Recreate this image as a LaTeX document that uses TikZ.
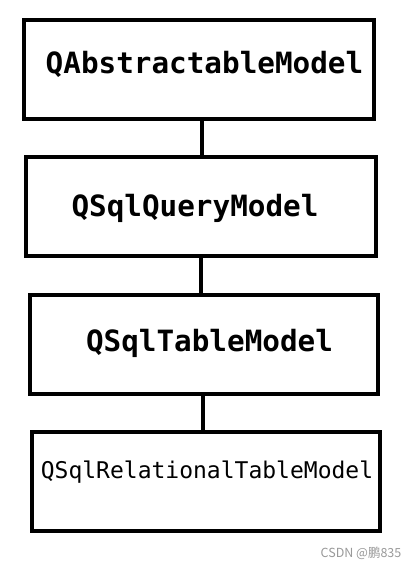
\documentclass[tikz,border=0pt]{standalone}
\usepackage{fontspec}
\setmonofont{DejaVu Sans Mono}
\newfontfamily\cjkfont{Noto Sans CJK SC}
\begin{document}
\begin{tikzpicture}[x=1bp,y=-1bp,
  box/.style={draw=black,line width=4bp,minimum width=#1,minimum height=99bp,inner sep=0pt,outer sep=0pt},
  conn/.style={draw=black,line width=4bp},
  bigtxt/.style={font=\ttfamily\bfseries\fontsize{29.3bp}{32bp}\selectfont,inner sep=0pt,anchor=center},
  smalltxt/.style={font=\ttfamily\fontsize{23bp}{26bp}\selectfont,inner sep=0pt,anchor=center}]
\useasboundingbox[fill=white] (0,0) rectangle (415,568);
\node[box=350bp] (b1) at (199,69.5) {};
\node[box=350bp] (b2) at (201,206.5) {};
\node[box=348bp] (b3) at (204,344.5) {};
\node[box=348bp] (b4) at (206,481.5) {};
\node[bigtxt] (t1) at (204.5,64) {QAbstractableModel};
\node[bigtxt] (t2) at (195,208) {QSqlQueryModel};
\node[bigtxt] (t3) at (209.5,343) {QSqlTableModel};
\node[smalltxt] (t4) at (207,472) {QSqlRelationalTableModel};
\coordinate (c1) at (202,0);
\coordinate (c2) at (201,0);
\coordinate (c3) at (203,0);
\draw[conn] (b1.south -| c1) -- (b2.north -| c1);
\draw[conn] (b2.south -| c2) -- (b3.north -| c2);
\draw[conn] (b3.south -| c3) -- (b4.north -| c3);
\node[font=\cjkfont\fontsize{12.5bp}{14bp}\selectfont,text=black!40,inner sep=0pt] (wm) at (361,553) {CSDN @鹏835};
\end{tikzpicture}
\end{document}
